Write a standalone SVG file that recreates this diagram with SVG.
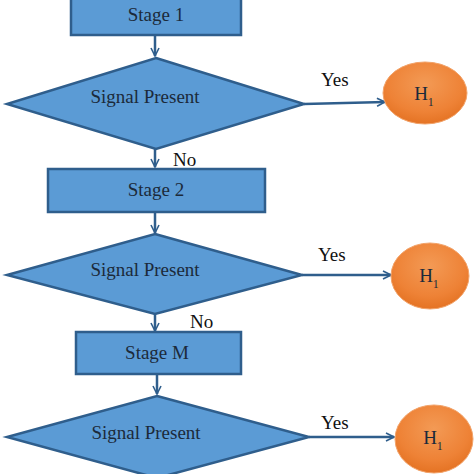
<svg xmlns="http://www.w3.org/2000/svg" width="474" height="474" viewBox="0 0 474 474">
<defs>
<style>
.box{fill:#5B9BD5;stroke:#2F5E8C;stroke-width:2.5}
.dec{fill:#5B9BD5;stroke:#2F5E8C;stroke-width:2.5;stroke-linejoin:miter}
.term{fill:url(#og);stroke:#F2A36A;stroke-width:1}
.lbl{font-family:"Liberation Serif","Times New Roman",serif;font-size:19px;fill:#1B2A3A;text-anchor:middle}
.edge{font-family:"Liberation Serif","Times New Roman",serif;font-size:19px;fill:#111}
.con{stroke:#2F5E8C;stroke-width:2.5;fill:none;marker-end:url(#ah)}
</style>
<radialGradient id="og" cx="50%" cy="35%" r="70%">
<stop offset="0" stop-color="#F39A55"/>
<stop offset="0.65" stop-color="#EE8236"/>
<stop offset="1" stop-color="#E26F1F"/>
</radialGradient>
<marker id="ah" viewBox="0 0 10 10" refX="9" refY="5" markerWidth="4" markerHeight="4" orient="auto" markerUnits="strokeWidth">
<path d="M1,1 L9,5 L1,9" fill="none" stroke="#2F5E8C" stroke-width="1.6"/>
</marker>
</defs>

<g id="connectors">
<line class="con" x1="155" y1="35" x2="155" y2="56"/>
<line class="con" x1="304" y1="104" x2="385" y2="102"/>
<line class="con" x1="155" y1="149" x2="155" y2="167"/>
<line class="con" x1="155" y1="212" x2="155" y2="233"/>
<line class="con" x1="302" y1="275" x2="391" y2="275"/>
<line class="con" x1="155" y1="314" x2="155" y2="331"/>
<line class="con" x1="157" y1="374" x2="157" y2="394"/>
<line class="con" x1="309" y1="437" x2="394" y2="437"/>
<text class="edge" x="321" y="86">Yes</text>
<text class="edge" x="173" y="166">No</text>
<text class="edge" x="318" y="261">Yes</text>
<text class="edge" x="190" y="328">No</text>
<text class="edge" x="321" y="429">Yes</text>
</g>

<g id="stage1">
<rect class="box" x="71" y="-4" width="170" height="39"/>
<text class="lbl" x="156" y="21">Stage 1</text>
</g>
<g id="decision1">
<polygon class="dec" points="156,58 304,104 156,149 7,104"/>
<text class="lbl" x="145" y="103">Signal Present</text>
</g>
<g id="h1a">
<ellipse class="term" cx="425" cy="93" rx="42" ry="31"/>
<text class="lbl" x="424" y="100" font-size="21">H<tspan font-size="12" dy="6">1</tspan></text>
</g>

<g id="stage2">
<rect class="box" x="48" y="169" width="217" height="43"/>
<text class="lbl" x="156" y="196">Stage 2</text>
</g>
<g id="decision2">
<polygon class="dec" points="155,234 302,275 155,314 7,275"/>
<text class="lbl" x="145" y="276">Signal Present</text>
</g>
<g id="h1b">
<ellipse class="term" cx="430" cy="276" rx="39" ry="33"/>
<text class="lbl" x="429" y="282" font-size="21">H<tspan font-size="12" dy="6">1</tspan></text>
</g>

<g id="stageM">
<rect class="box" x="76" y="332" width="165" height="42"/>
<text class="lbl" x="157" y="359">Stage M</text>
</g>
<g id="decision3">
<polygon class="dec" points="157,396 309,437 157,478 7,437"/>
<text class="lbl" x="146" y="439">Signal Present</text>
</g>
<g id="h1c">
<ellipse class="term" cx="434" cy="439" rx="39" ry="34"/>
<text class="lbl" x="433" y="444" font-size="21">H<tspan font-size="12" dy="6">1</tspan></text>
</g>
</svg>
